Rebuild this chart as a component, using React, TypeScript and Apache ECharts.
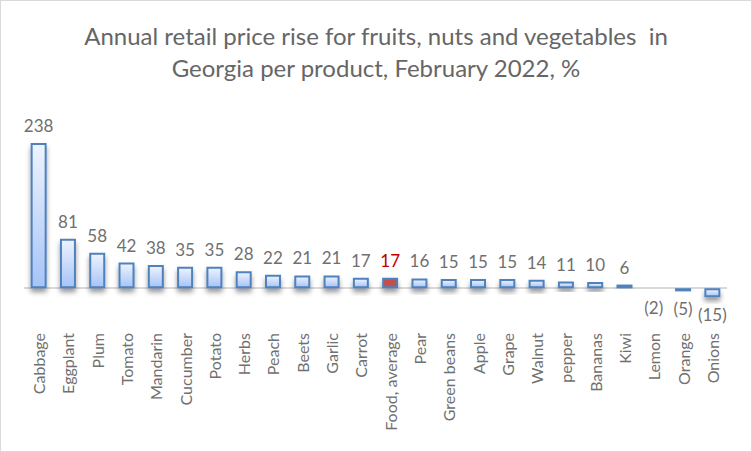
import React, { useEffect, useRef } from "react";
import * as echarts from "echarts";

const titleLines = [
  "Annual retail price rise for fruits, nuts and vegetables  in",
  "Georgia per product, February 2022, %",
];
const categories = [
  "Cabbage", "Eggplant", "Plum", "Tomato", "Mandarin", "Cucumber", "Potato", "Herbs",
  "Peach", "Beets", "Garlic", "Carrot", "Food, average", "Pear", "Green beans", "Apple",
  "Grape", "Walnut", "pepper", "Bananas", "Kiwi", "Lemon", "Orange", "Onions",
];
const values = [238, 81, 58, 42, 38, 35, 35, 28, 22, 21, 21, 17, 17, 16, 15, 15, 15, 14, 11, 10, 6, -2, -5, -15];
const highlight = "Food, average";

export default function App() {
  const ref = useRef<HTMLDivElement>(null);
  useEffect(() => {
    if (!ref.current) return;
    const chart = echarts.init(ref.current, undefined, { renderer: "svg" });
    const font = "Lato, 'Open Sans', sans-serif";
    const gradient = new echarts.graphic.LinearGradient(0, 0, 0, 1, [
      { offset: 0, color: "#eef3fe" },
      { offset: 1, color: "#a6c4f6" },
    ]);
    const data = values.map((v, i) => {
      const isHi = categories[i] === highlight;
      return {
        value: v,
        itemStyle: isHi
          ? { color: "#c0504d", borderColor: "#4f81bd" }
          : { color: gradient, borderColor: "#4f81bd" },
        label: {
          position: v < 0 ? "bottom" : "top",
          color: isHi ? "#c00000" : "#707070",
        },
      };
    });
    chart.setOption({
      animation: false,
      title: {
        text: titleLines.join("\n"),
        left: "center",
        top: 18,
        padding: 0,
        textStyle: {
          fontFamily: font,
          fontSize: 24,
          fontWeight: "normal",
          color: "#666666",
          lineHeight: 32,
        },
      },
      grid: { left: 23, right: 24, top: 142, height: 180, containLabel: false },
      xAxis: {
        type: "category",
        data: categories,
        axisLine: { show: false, onZero: false },
        axisTick: { show: false },
        axisLabel: {
          rotate: 90,
          interval: 0,
          margin: 10,
          fontFamily: font,
          fontSize: 16,
          color: "#707070",
        },
      },
      yAxis: {
        type: "value",
        min: -57,
        max: 238,
        show: false,
        splitLine: { show: false },
      },
      series: [
        {
          type: "bar",
          data,
          barWidth: 16,
          itemStyle: {
            borderWidth: 2,
            shadowColor: "rgba(0,0,0,0.4)",
            shadowBlur: 5,
            shadowOffsetY: 4,
          },
          label: {
            show: true,
            fontFamily: font,
            fontSize: 17,
            distance: 9,
            formatter: (p: any) => (p.value < 0 ? `(${-p.value})` : `${p.value}`),
          },
          markLine: {
            silent: true,
            symbol: "none",
            label: { show: false },
            lineStyle: { color: "#d9d9d9", width: 2, type: "solid" },
            data: [{ yAxis: 0 }],
            z: 1,
          },
        },
      ],
    });
    return () => chart.dispose();
  }, []);
  return (
    <div
      style={{
        position: "absolute",
        left: 0,
        top: 0,
        width: 752,
        height: 452,
        boxSizing: "border-box",
        border: "1px solid #d9d9d9",
        background: "#fff",
      }}
    >
      <div ref={ref} style={{ width: 750, height: 450 }} />
    </div>
  );
}
